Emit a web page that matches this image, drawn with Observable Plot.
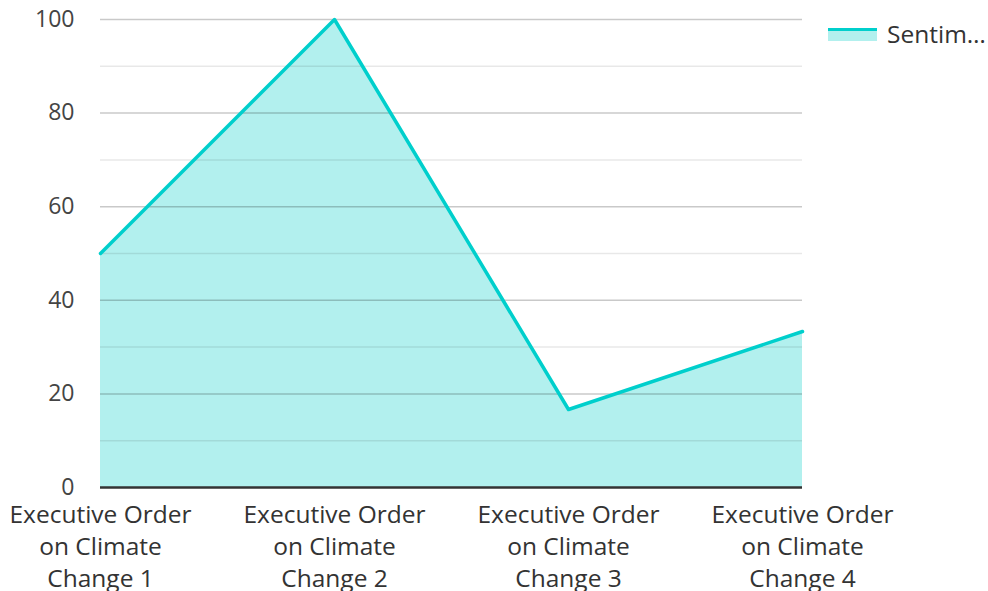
<!DOCTYPE html>
<html>
<head>
<meta charset="utf-8">
<script src="https://cdn.jsdelivr.net/npm/d3@7"></script>
<script src="https://cdn.jsdelivr.net/npm/@observablehq/plot@0.6"></script>
<style>
  html, body { margin: 0; padding: 0; background: #fff; overflow: hidden; }
  #wrap { position: relative; width: 988px; height: 591px; font-family: "Open Sans", sans-serif; }
  #legend { position: absolute; left: 828px; top: 17px; display: flex; align-items: center; font-size: 24.5px; color: #333; }
  #legend .sw { width: 49px; height: 13px; margin-right: 10px; position: relative; top: 1px; }
</style>
</head>
<body>
<div id="wrap">
  <div id="chart"></div>
  <div id="legend"><div class="sw"><div style="position:absolute;left:0;top:0;width:49px;height:3px;background:#00cfcc"></div><div style="position:absolute;left:0;top:3px;width:49px;height:10px;background:#b2f0ee"></div></div><span>Sentim…</span></div>
</div>
<script>
const categories = [
  "Executive Order\non Climate\nChange 1",
  "Executive Order\non Climate\nChange 2",
  "Executive Order\non Climate\nChange 3",
  "Executive Order\non Climate\nChange 4"
];
const sentiment = [50, 100, 16.67, 33.33];
const majorTicks = [20, 40, 60, 80, 100];
const minorTicks = [10, 30, 50, 70, 90];
const yTicks = [0, 20, 40, 60, 80, 100];

const data = categories.map((c, i) => ({cat: c, value: sentiment[i]}));

const chart = Plot.plot({
  width: 988,
  height: 591,
  marginLeft: 100,
  marginRight: 186,
  marginTop: 19,
  marginBottom: 104,
  style: {fontFamily: "Open Sans, sans-serif", fontSize: "23px", color: "#444", background: "#fff"},
  x: {type: "point", domain: categories, padding: 0},
  y: {domain: [0, 100]},
  marks: [
    Plot.areaY(data, {x: "cat", y: "value", fill: "#b2f0ee"}),
    Plot.ruleY(minorTicks, {stroke: "#000", strokeOpacity: 0.09, strokeWidth: 1.5}),
    Plot.ruleY(majorTicks, {stroke: "#000", strokeOpacity: 0.21, strokeWidth: 1.5}),
    Plot.lineY(data, {x: "cat", y: "value", stroke: "#00cfcc", strokeWidth: 3.5}),
    Plot.ruleY([0], {stroke: "#333", strokeWidth: 2.5}),
    Plot.axisY({ticks: yTicks, tickSize: 0, tickPadding: 26, fontSize: 23, fill: "#444", label: null}),
    Plot.axisX({tickSize: 0, tickPadding: 13, fontSize: 24.5, fill: "#333", lineHeight: 1.3, label: null, textOverflow: null})
  ]
});
document.getElementById("chart").appendChild(chart);
</script>
</body>
</html>
